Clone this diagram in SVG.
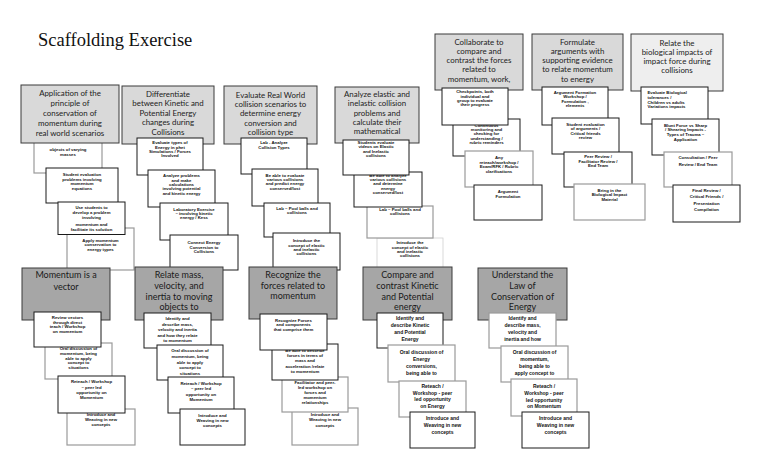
<svg xmlns="http://www.w3.org/2000/svg" width="768" height="466" viewBox="0 0 768 466">
<style>
.bgr{fill:#ffffff}
.h{fill:#d9d9d9;stroke:#3a3a3a;stroke-width:1}
.hl{fill:#eeeeee;stroke:#3a3a3a;stroke-width:1}
.hd{fill:#a6a6a6;stroke:#3a3a3a;stroke-width:1}
.k{fill:#ffffff;stroke:#1a1a1a;stroke-width:1}
.g{fill:#ffffff;stroke:#9a9a9a;stroke-width:1.2}
.n{fill:#ffffff;stroke:#d0d0d0;stroke-width:0.8}
.ht{font-family:Lato,"Liberation Sans",sans-serif;font-size:7.9px;fill:#222;text-anchor:middle}
.hb{font-family:Lato,"Liberation Sans",sans-serif;font-size:9px;fill:#1a1a1a;text-anchor:middle}
.s{font-family:"Liberation Sans",Arial,sans-serif;font-weight:bold;font-size:4.3px;fill:#111;text-anchor:middle}
.sl{font-family:"Liberation Sans",Arial,sans-serif;font-weight:bold;font-size:4.3px;fill:#111}
.s2{font-family:"Liberation Sans",Arial,sans-serif;font-weight:bold;font-size:5px;fill:#111;text-anchor:middle}
.t{font-family:"Liberation Serif","Times New Roman",serif;font-size:18.5px;fill:#111}
</style>
<rect class="bgr" x="0" y="0" width="768" height="466"/>
<text id="title" class="t" x="38" y="46">Scaffolding Exercise</text>
<g id="connectors"/>

<!-- Column 1 -->
<g id="c1">
<g id="c1b1"><rect class="g" x="34" y="136" width="68" height="37"/><text class="s"><tspan x="68" y="151.3">objects of varying</tspan><tspan x="68" y="155.9">masses</tspan></text></g>
<g id="c1b2"><rect class="k" x="46" y="168" width="72" height="35"/><text class="s"><tspan x="82" y="176">Student evaluation</tspan><tspan x="82" y="180.6">problems involving</tspan><tspan x="82" y="185.2">momentum</tspan><tspan x="82" y="189.8">equations</tspan></text></g>
<g id="c1b4"><rect class="g" x="67" y="228" width="67" height="42"/><text class="s"><tspan x="100.5" y="241.5">Apply momentum</tspan><tspan x="100.5" y="246.2">conservation to</tspan><tspan x="100.5" y="250.9">energy types</tspan></text></g>
<g id="c1b3"><rect class="k" x="58" y="202" width="67" height="32.5"/><text class="s"><tspan x="91.5" y="209">Use students to</tspan><tspan x="91.5" y="214">develop a problem</tspan><tspan x="91.5" y="219">involving</tspan><tspan x="91.5" y="226">momentum and</tspan><tspan x="91.5" y="231">facilitate its solution</tspan></text></g>
<g id="c1h"><rect class="h" x="21" y="85" width="98" height="58"/><text class="ht"><tspan x="70" y="96.3">Application of the</tspan><tspan x="70" y="106.1">principle of</tspan><tspan x="70" y="115.9">conservation of</tspan><tspan x="70" y="125.7">momentum during</tspan><tspan x="70" y="135.5">real world scenarios</tspan></text></g>
</g>

<!-- Column 2 -->
<g id="c2">
<g id="c2h"><rect class="h" x="122" y="86" width="92" height="58"/><text class="ht"><tspan x="168" y="97">Differentiate</tspan><tspan x="168" y="106.4">between Kinetic and</tspan><tspan x="168" y="115.8">Potential Energy</tspan><tspan x="168" y="125.2">changes during</tspan><tspan x="168" y="134.6">Collisions</tspan></text></g>
<g id="c2b1"><rect class="k" x="137" y="138" width="66" height="37"/><text class="s"><tspan x="170" y="144.3">Evaluate types of</tspan><tspan x="170" y="148.5">Energy in phet</tspan><tspan x="170" y="152.7">Simulations / Forces</tspan><tspan x="170" y="156.9">Involved</tspan></text></g>
<g id="c2b2"><rect class="k" x="148" y="170" width="67" height="37"/><text class="s"><tspan x="181.5" y="177.3">Analyze problems</tspan><tspan x="181.5" y="181.6">and make</tspan><tspan x="181.5" y="185.9">calculations</tspan><tspan x="181.5" y="190.2">involving potential</tspan><tspan x="181.5" y="194.5">and kinetic energy</tspan></text></g>
<g id="c2b3"><rect class="k" x="160" y="203" width="68" height="37"/><text class="s"><tspan x="194" y="210.5">Laboratory Exercise</tspan><tspan x="194" y="214.8">– involving kinetic</tspan><tspan x="194" y="219.1">energy / Kess</tspan></text></g>
<g id="c2b4"><rect class="k" x="170" y="235" width="68" height="35"/><text class="s"><tspan x="204" y="244.3">Connect Energy</tspan><tspan x="204" y="248.5">Conversion to</tspan><tspan x="204" y="252.7">Collisions</tspan></text></g>
</g>

<!-- Column 3 -->
<g id="c3">
<g id="c3h"><rect class="h" x="224" y="86" width="93" height="58"/><text class="ht"><tspan x="270.5" y="98">Evaluate Real World</tspan><tspan x="270.5" y="107.2">collision scenarios to</tspan><tspan x="270.5" y="116.4">determine energy</tspan><tspan x="270.5" y="125.6">conversion and</tspan><tspan x="270.5" y="134.8">collision type</tspan></text></g>
<g id="c3b1"><rect class="k" x="241" y="138" width="66" height="36"/><text class="s"><tspan x="274" y="144.3">Lab - Analyze</tspan><tspan x="274" y="148.5">Collision Types</tspan></text></g>
<g id="c3b2"><rect class="k" x="252" y="169" width="66" height="37"/><text class="s"><tspan x="285" y="176.6">Be able to evaluate</tspan><tspan x="285" y="180.9">various collisions</tspan><tspan x="285" y="185.2">and predict energy</tspan><tspan x="285" y="189.5">conserved/lost</tspan></text></g>
<g id="c3b3"><rect class="k" x="264" y="203" width="66" height="34"/><text class="s"><tspan x="297" y="209.9">Lab – Pool balls and</tspan><tspan x="297" y="214.2">collisions</tspan></text></g>
<g id="c3b4"><rect class="k" x="273" y="233" width="67" height="37"/><text class="s"><tspan x="306.5" y="242.3">Introduce the</tspan><tspan x="306.5" y="246.6">concept of elastic</tspan><tspan x="306.5" y="250.9">and inelastic</tspan><tspan x="306.5" y="255.2">collisions</tspan></text></g>
</g>

<!-- Column 4 -->
<g id="c4">
<g id="c4h"><rect class="h" x="335" y="87" width="84" height="56"/><text class="ht"><tspan x="377" y="97">Analyze elastic and</tspan><tspan x="377" y="106.3">inelastic collision</tspan><tspan x="377" y="115.6">problems and</tspan><tspan x="377" y="124.9">calculate their</tspan><tspan x="377" y="134.2">mathematical</tspan></text></g>
<g id="c4b4"><rect class="n" x="377" y="238" width="66" height="32"/><text class="s"><tspan x="410" y="244.3">Introduce the</tspan><tspan x="410" y="248.5">concept of elastic</tspan><tspan x="410" y="252.7">and inelastic</tspan><tspan x="410" y="256.9">collisions</tspan></text></g>
<g id="c4b3"><rect class="g" x="367" y="206" width="66" height="32"/><text class="s"><tspan x="400" y="211">Lab – Pool balls and</tspan><tspan x="400" y="215">collisions</tspan></text></g>
<g id="c4b2"><rect class="k" x="354" y="172" width="68" height="35"/><text class="s"><tspan x="388" y="176.7">Be able to analyze</tspan><tspan x="388" y="181">various collisions</tspan><tspan x="388" y="185.3">and determine</tspan><tspan x="388" y="189.6">energy</tspan><tspan x="388" y="193.9">conserved/lost</tspan></text></g>
<g id="c4b1"><rect class="k" x="343" y="140" width="66" height="35"/><text class="s"><tspan x="376" y="144">Students evaluate</tspan><tspan x="376" y="148.3">videos on Elastic</tspan><tspan x="376" y="152.6">and Inelastic</tspan><tspan x="376" y="156.9">collisions</tspan></text></g>
</g>

<!-- Column 5 -->
<g id="c5">
<g id="c5h"><rect class="h" x="435" y="34" width="88" height="56"/><text class="ht"><tspan x="479" y="44.7">Collaborate to</tspan><tspan x="479" y="53.9">compare and</tspan><tspan x="479" y="63.1">contrast the forces</tspan><tspan x="479" y="72.3">related to</tspan><tspan x="479" y="81.5">momentum, work,</tspan></text></g>
<g id="c5b2"><rect class="k" x="453" y="119" width="67" height="37"/><text class="s"><tspan x="486.5" y="126.8">Continuous</tspan><tspan x="486.5" y="131.1">monitoring and</tspan><tspan x="486.5" y="135.4">checking for</tspan><tspan x="486.5" y="139.7">understanding /</tspan><tspan x="486.5" y="144">rubric reminders</tspan></text></g>
<g id="c5b1"><rect class="k" x="442" y="88" width="66" height="37"/><text class="s"><tspan x="475" y="93.3">Checkpoints, both</tspan><tspan x="475" y="97.6">individual and</tspan><tspan x="475" y="101.9">group to evaluate</tspan><tspan x="475" y="106.2">their progress</tspan></text></g>
<g id="c5b3"><rect class="g" x="465" y="151" width="68" height="36"/><text class="s"><tspan x="499" y="159">Any</tspan><tspan x="499" y="163.6">reteach/workshop /</tspan><tspan x="499" y="168.2">Exam/RFK / Rubric</tspan><tspan x="499" y="172.8">clarifications</tspan></text></g>
<g id="c5b4"><rect class="k" x="474" y="185" width="68" height="35"/><text class="s"><tspan x="508" y="193.3">Argument</tspan><tspan x="508" y="197.6">Formulation</tspan></text></g>
</g>

<!-- Column 6 -->
<g id="c6">
<g id="c6h"><rect class="h" x="532" y="34" width="91" height="56"/><text class="ht"><tspan x="577.5" y="44.7">Formulate</tspan><tspan x="577.5" y="53.9">arguments with</tspan><tspan x="577.5" y="63.1">supporting evidence</tspan><tspan x="577.5" y="72.3">to relate momentum</tspan><tspan x="577.5" y="81.5">to energy</tspan></text></g>
<g id="c6b1"><rect class="k" x="542" y="87" width="66" height="38"/><text class="s"><tspan x="575" y="94.3">Argument Formation</tspan><tspan x="575" y="98.4">Workshop /</tspan><tspan x="575" y="102.5">Formulation ,</tspan><tspan x="575" y="106.6">elements</tspan></text></g>
<g id="c6b2"><rect class="k" x="552" y="118" width="67" height="36"/><text class="s"><tspan x="585.5" y="126">Student evaluation</tspan><tspan x="585.5" y="130.4">of arguments /</tspan><tspan x="585.5" y="134.8">Critical friends</tspan><tspan x="585.5" y="139.2">review</tspan></text></g>
<g id="c6b3"><rect class="k" x="564" y="152" width="68" height="35"/><text class="s"><tspan x="598" y="158.3">Peer Review /</tspan><tspan x="598" y="162.6">Facilitator Review /</tspan><tspan x="598" y="166.9">End Team</tspan></text></g>
<g id="c6b4"><rect class="g" x="574" y="184" width="71" height="36"/><text class="s"><tspan x="609.5" y="191.7">Bring in the</tspan><tspan x="609.5" y="196.2">Biological Impact</tspan><tspan x="609.5" y="200.7">Material</tspan></text></g>
</g>

<!-- Column 7 -->
<g id="c7">
<g id="c7h"><rect class="hl" x="631" y="34" width="92" height="57"/><text class="ht"><tspan x="677" y="45.7">Relate the</tspan><tspan x="677" y="54.9">biological impacts of</tspan><tspan x="677" y="64.1">impact force during</tspan><tspan x="677" y="73.3">collisions</tspan></text></g>
<g id="c7b1"><rect class="k" x="641" y="87" width="67" height="37"/><text class="sl"><tspan x="647.5" y="94.3">Evaluate Biological</tspan><tspan x="647.5" y="99">tolerances /</tspan><tspan x="647.5" y="103.7">Children vs adults</tspan><tspan x="647.5" y="108.4">Variations impacts</tspan></text></g>
<g id="c7b2"><rect class="k" x="652" y="119" width="67" height="36"/><text class="s"><tspan x="685.5" y="126.6">Blunt Force vs Sharp</tspan><tspan x="685.5" y="131.3">/ Shearing Impacts -</tspan><tspan x="685.5" y="136">Types of Trauma –</tspan><tspan x="685.5" y="140.7">Application</tspan></text></g>
<g id="c7b3"><rect class="g" x="664" y="152" width="68" height="35"/><text class="s"><tspan x="698" y="159">Consultation / Peer</tspan><tspan x="698" y="165.5">Review / End Team</tspan></text></g>
<g id="c7b4"><rect class="k" x="673" y="185" width="67" height="37"/><text class="s"><tspan x="706.5" y="191.7">Final Review /</tspan><tspan x="706.5" y="198.2">Critical Friends /</tspan><tspan x="706.5" y="204.7">Presentation</tspan><tspan x="706.5" y="211.2">Compilation</tspan></text></g>
</g>

<!-- Bottom row 1 -->
<g id="r1">
<g id="r1h"><rect class="hd" x="22" y="268" width="88" height="52"/><text class="hb"><tspan x="66" y="278.3">Momentum is a</tspan><tspan x="66" y="290">vector</tspan></text></g>
<g id="r1b2"><rect class="g" x="45" y="343" width="67" height="36"/><text class="s"><tspan x="78.5" y="349.9">Oral discussion of</tspan><tspan x="78.5" y="354.7">momentum, being</tspan><tspan x="78.5" y="359.5">able to apply</tspan><tspan x="78.5" y="364.3">concept to</tspan><tspan x="78.5" y="369.1">situations</tspan></text></g>
<g id="r1b1"><rect class="k" x="34" y="312" width="67" height="35"/><text class="s"><tspan x="67.5" y="319">Review vectors</tspan><tspan x="67.5" y="323.6">through direct</tspan><tspan x="67.5" y="328.2">teach / Workshop</tspan><tspan x="67.5" y="332.8">on momentum</tspan></text></g>
<g id="r1b4"><rect class="g" x="67" y="409" width="68" height="36"/><text class="s"><tspan x="101" y="415.6">Introduce and</tspan><tspan x="101" y="420.6">Weaving in new</tspan><tspan x="101" y="425.6">concepts</tspan></text></g>
<g id="r1b3"><rect class="k" x="58" y="376" width="67" height="37"/><text class="s"><tspan x="91.5" y="383.3">Reteach / Workshop</tspan><tspan x="91.5" y="388.6">– peer led</tspan><tspan x="91.5" y="393.9">opportunity on</tspan><tspan x="91.5" y="399.2">Momentum</tspan></text></g>
</g>

<!-- Bottom row 2 -->
<g id="r2">
<g id="r2h"><rect class="hd" x="135" y="267" width="88" height="53"/><text class="hb"><tspan x="179" y="278.3">Relate mass,</tspan><tspan x="179" y="289">velocity, and</tspan><tspan x="179" y="299.7">inertia to moving</tspan><tspan x="179" y="310.4">objects to</tspan></text></g>
<g id="r2b1"><rect class="k" x="144" y="313" width="67" height="35"/><text class="s"><tspan x="177.5" y="320">Identify and</tspan><tspan x="177.5" y="325.5">describe mass,</tspan><tspan x="177.5" y="331">velocity and inertia</tspan><tspan x="177.5" y="336.5">and how they relate</tspan><tspan x="177.5" y="342">to momentum</tspan></text></g>
<g id="r2b2"><rect class="k" x="157" y="345" width="66" height="35"/><text class="s"><tspan x="190" y="352.3">Oral discussion of</tspan><tspan x="190" y="357.9">momentum, being</tspan><tspan x="190" y="363.5">able to apply</tspan><tspan x="190" y="369.1">concept to</tspan><tspan x="190" y="374.7">situations</tspan></text></g>
<g id="r2b3"><rect class="k" x="168" y="377" width="66" height="36"/><text class="s"><tspan x="201" y="385">Reteach / Workshop</tspan><tspan x="201" y="390.4">– peer led</tspan><tspan x="201" y="395.8">opportunity on</tspan><tspan x="201" y="401.2">Momentum</tspan></text></g>
<g id="r2b4"><rect class="k" x="180" y="409" width="65" height="36"/><text class="s"><tspan x="212.5" y="416.6">Introduce and</tspan><tspan x="212.5" y="421.6">Weaving in new</tspan><tspan x="212.5" y="426.6">concepts</tspan></text></g>
</g>

<!-- Bottom row 3 -->
<g id="r3">
<g id="r3h"><rect class="hd" x="249" y="267" width="88" height="52"/><text class="hb"><tspan x="293" y="278.3">Recognize the</tspan><tspan x="293" y="288.8">forces related to</tspan><tspan x="293" y="299.3">momentum</tspan></text></g>
<g id="r3b4"><rect class="g" x="292" y="408" width="66" height="37"/><text class="s"><tspan x="325" y="415.6">Introduce and</tspan><tspan x="325" y="421.4">Weaving in new</tspan><tspan x="325" y="427.2">concepts</tspan></text></g>
<g id="r3b3"><rect class="g" x="282" y="377" width="66" height="35"/><text class="s"><tspan x="315" y="384.3">Facilitator and peer-</tspan><tspan x="315" y="389.1">led workshop on</tspan><tspan x="315" y="393.9">forces and</tspan><tspan x="315" y="398.7">momentum</tspan><tspan x="315" y="403.5">relationships</tspan></text></g>
<g id="r3b2"><rect class="k" x="272" y="344" width="66" height="36"/><text class="s"><tspan x="305" y="351.6">Be able to describe</tspan><tspan x="305" y="356.9">forces in terms of</tspan><tspan x="305" y="362.2">mass and</tspan><tspan x="305" y="367.5">acceleration /relate</tspan><tspan x="305" y="372.8">to momentum</tspan></text></g>
<g id="r3b1"><rect class="k" x="260" y="314" width="67" height="36"/><text class="s"><tspan x="293.5" y="321.6">Recognize Forces</tspan><tspan x="293.5" y="326.1">and components</tspan><tspan x="293.5" y="330.6">that comprise them</tspan></text></g>
</g>

<!-- Bottom row 4 -->
<g id="r4">
<g id="r4h"><rect class="hd" x="363" y="267" width="89" height="53"/><text class="hb"><tspan x="407.5" y="278.3">Compare and</tspan><tspan x="407.5" y="289">contrast Kinetic</tspan><tspan x="407.5" y="299.7">and Potential</tspan><tspan x="407.5" y="310.4">energy</tspan></text></g>
<g id="r4b1"><rect class="k" x="377" y="313" width="66" height="35"/><text class="s2"><tspan x="410" y="320">Identify and</tspan><tspan x="410" y="327">describe Kinetic</tspan><tspan x="410" y="334">and Potential</tspan><tspan x="410" y="341">Energy</tspan></text></g>
<g id="r4b2"><rect class="g" x="388" y="345" width="67" height="37"/><text class="s2"><tspan x="421.5" y="353.5">Oral discussion of</tspan><tspan x="421.5" y="360.5">Energy</tspan><tspan x="421.5" y="367.5">conversions,</tspan><tspan x="421.5" y="374.5">being able to</tspan></text></g>
<g id="r4b3"><rect class="g" x="399" y="381" width="67" height="36"/><text class="s2"><tspan x="432.5" y="388.4">Reteach /</tspan><tspan x="432.5" y="394.9">Workshop - peer</tspan><tspan x="432.5" y="401.4">led opportunity</tspan><tspan x="432.5" y="407.9">on Energy</tspan></text></g>
<g id="r4b4"><rect class="k" x="410" y="412" width="65" height="36"/><text class="s2"><tspan x="442.5" y="420">Introduce and</tspan><tspan x="442.5" y="427">Weaving in new</tspan><tspan x="442.5" y="434">concepts</tspan></text></g>
</g>

<!-- Bottom row 5 -->
<g id="r5">
<g id="r5h"><rect class="hd" x="478" y="268" width="89" height="52"/><text class="hb"><tspan x="522.5" y="278.3">Understand the</tspan><tspan x="522.5" y="289">Law of</tspan><tspan x="522.5" y="299.7">Conservation of</tspan><tspan x="522.5" y="310.4">Energy</tspan></text></g>
<g id="r5b1"><rect class="g" x="489" y="313" width="67" height="35"/><text class="s2"><tspan x="522.5" y="320">Identify and</tspan><tspan x="522.5" y="327">describe mass,</tspan><tspan x="522.5" y="334">velocity and</tspan><tspan x="522.5" y="341">inertia and how</tspan></text></g>
<g id="r5b2"><rect class="g" x="501" y="346" width="67" height="36"/><text class="s2"><tspan x="534.5" y="353.5">Oral discussion of</tspan><tspan x="534.5" y="360.5">momentum,</tspan><tspan x="534.5" y="367.5">being able to</tspan><tspan x="534.5" y="374.5">apply concept to</tspan></text></g>
<g id="r5b3"><rect class="g" x="511" y="379" width="66" height="37"/><text class="s2"><tspan x="544" y="388.4">Reteach /</tspan><tspan x="544" y="395">Workshop - peer</tspan><tspan x="544" y="401.6">led opportunity</tspan><tspan x="544" y="408.2">on Momentum</tspan></text></g>
<g id="r5b4"><rect class="k" x="522" y="412" width="67" height="36"/><text class="s2"><tspan x="555.5" y="420">Introduce and</tspan><tspan x="555.5" y="427">Weaving in new</tspan><tspan x="555.5" y="434">concepts</tspan></text></g>
</g>
</svg>
